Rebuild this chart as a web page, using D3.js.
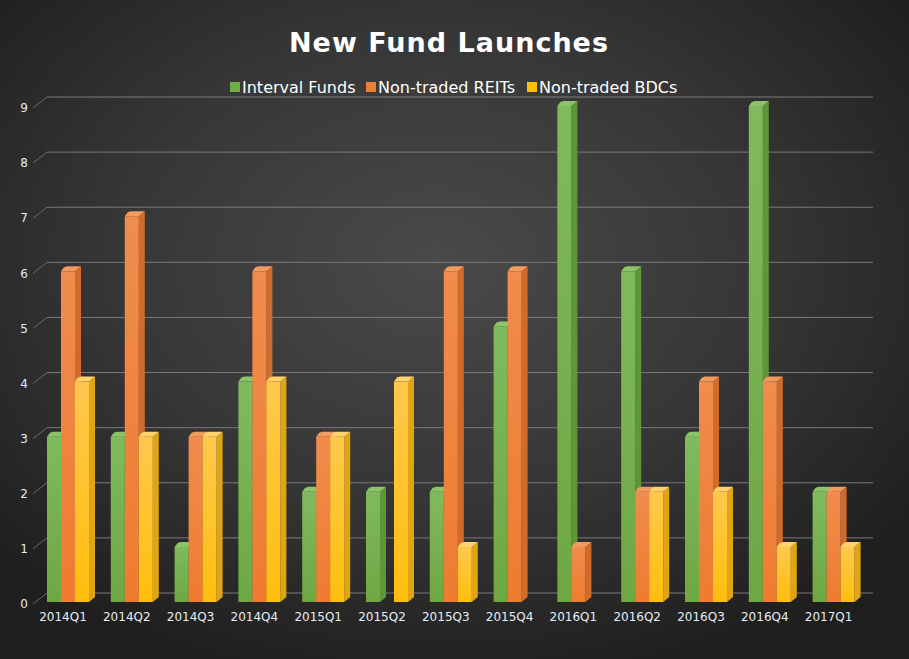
<!DOCTYPE html>
<html lang="en">
<head>
    <meta charset="UTF-8">
    <title>New Fund Launches</title>
    <script src="https://d3js.org/d3.v7.min.js"></script>
    <style>
        body {
            margin: 0;
            padding: 0;
            background: #222;
            font-family: 'DejaVu Sans', Arial, sans-serif;
        }
        svg { display: block; }
        .tick-label {
            font-size: 12px;
            fill: #e6ecf5;
        }
        .legend text {
            font-size: 16px;
            fill: #ffffff;
        }
    </style>
</head>
<body>
    <svg width="909" height="659" class="chart"></svg>

    <script>
        // Chart data
        const categories = ["2014Q1", "2014Q2", "2014Q3", "2014Q4", "2015Q1", "2015Q2", "2015Q3",
                            "2015Q4", "2016Q1", "2016Q2", "2016Q3", "2016Q4", "2017Q1"];
        const seriesNames = ["Interval Funds", "Non-traded REITs", "Non-traded BDCs"];
        const intervalFunds = [3, 3, 1, 4, 2, 2, 2, 5, 9, 6, 3, 9, 2];
        const nonTradedREITs = [6, 7, 3, 6, 3, 0, 6, 6, 1, 2, 4, 4, 2];
        const nonTradedBDCs = [4, 3, 3, 4, 3, 4, 1, 0, 0, 2, 2, 1, 1];
        const yTicks = [0, 1, 2, 3, 4, 5, 6, 7, 8, 9];

        const series = [intervalFunds, nonTradedREITs, nonTradedBDCs];

        // face colours per series
        const palette = [
            { front1: "#7fba5d", front2: "#6ea843", side: "#5f9639", top: "#8cc46a", legend: "#70ad47" },
            { front1: "#f08c4d", front2: "#ee7c30", side: "#d06b2c", top: "#f39a5f", legend: "#ed7d31" },
            { front1: "#ffc84d", front2: "#ffbe0d", side: "#dfa514", top: "#ffd36b", legend: "#ffc000" }
        ];

        const svg = d3.select(".chart");
        const width = +svg.attr("width");
        const height = +svg.attr("height");

        const defs = svg.append("defs");

        // background
        const bg = defs.append("radialGradient")
            .attr("id", "bg")
            .attr("cx", "48%").attr("cy", "40%").attr("r", "65%");
        bg.append("stop").attr("offset", "0%").attr("stop-color", "#4a4a4a");
        bg.append("stop").attr("offset", "55%").attr("stop-color", "#363636");
        bg.append("stop").attr("offset", "100%").attr("stop-color", "#1f1f1f");

        svg.append("rect")
            .attr("width", width)
            .attr("height", height)
            .attr("fill", "url(#bg)");

        palette.forEach((p, i) => {
            const g = defs.append("linearGradient")
                .attr("id", "front" + i)
                .attr("x1", 0).attr("y1", 0).attr("x2", 0).attr("y2", 1);
            g.append("stop").attr("offset", "0%").attr("stop-color", p.front1);
            g.append("stop").attr("offset", "100%").attr("stop-color", p.front2);
        });

        // 3D geometry
        const depthX = 14, depthY = -11;   // front to back wall
        const barDX = 6, barDY = -5;       // bar thickness
        const barOffset = 9;               // bars sit between front and back

        const yBack = d3.scaleLinear()
            .domain([0, 9])
            .range([593, 97]);

        const xScale = d3.scaleBand()
            .domain(categories)
            .range([31, 31 + 13 * 63.8]);

        const barWidth = 14;

        // gridlines on the back wall
        const grid = svg.append("g").attr("class", "grid");
        grid.selectAll("line.back")
            .data(yTicks)
            .enter()
            .append("line")
            .attr("x1", 47)
            .attr("x2", 873)
            .attr("y1", d => yBack(d))
            .attr("y2", d => yBack(d))
            .attr("stroke", "#7a7a7a")
            .attr("stroke-width", 1);

        // diagonal tick lines from the front edge
        grid.selectAll("line.diag")
            .data(yTicks)
            .enter()
            .append("line")
            .attr("x1", 47 - depthX)
            .attr("y1", d => yBack(d) - depthY)
            .attr("x2", 47)
            .attr("y2", d => yBack(d))
            .attr("stroke", "#6a6a6a")
            .attr("stroke-width", 1);

        svg.append("g")
            .selectAll("text")
            .data(yTicks)
            .enter()
            .append("text")
            .attr("class", "tick-label")
            .attr("x", 28)
            .attr("y", d => yBack(d) - depthY)
            .attr("dy", "0.35em")
            .attr("text-anchor", "end")
            .text(d => d);

        // bars
        const bars = svg.append("g").attr("class", "bars");
        categories.forEach((cat, ci) => {
            series.forEach((vals, si) => {
                const v = vals[ci];
                if (!v) return;
                const x0 = xScale(cat) + 16 + si * barWidth;
                const x1 = x0 + barWidth;
                const yTop = yBack(v) + barOffset;
                const yBot = yBack(0) + barOffset;
                const p = palette[si];

                // side face
                bars.append("path")
                    .attr("d", `M${x1},${yTop} L${x1 + barDX},${yTop + barDY} L${x1 + barDX},${yBot + barDY} L${x1},${yBot} Z`)
                    .attr("fill", p.side);
                // top face
                bars.append("path")
                    .attr("d", `M${x0},${yTop} L${x0 + 3},${yTop + barDY + 1} L${x0 + barDX},${yTop + barDY} L${x1 + barDX},${yTop + barDY} L${x1},${yTop} Z`)
                    .attr("fill", p.top);
                // front face
                bars.append("rect")
                    .attr("x", x0)
                    .attr("y", yTop)
                    .attr("width", barWidth)
                    .attr("height", yBot - yTop)
                    .attr("fill", `url(#front${si})`);
            });
        });

        // category labels
        svg.append("g")
            .selectAll("text")
            .data(categories)
            .enter()
            .append("text")
            .attr("class", "tick-label")
            .attr("x", d => xScale(d) + 32)
            .attr("y", 617)
            .attr("dy", "0.35em")
            .attr("text-anchor", "middle")
            .text(d => d);

        // title
        svg.append("text")
            .attr("x", 449)
            .attr("y", 43)
            .attr("dy", "0.35em")
            .attr("text-anchor", "middle")
            .style("font-size", "27px")
            .style("font-weight", "bold")
            .style("letter-spacing", "1px")
            .style("fill", "#ffffff")
            .text("New Fund Launches");

        // legend
        const legend = svg.append("g").attr("class", "legend");
        const legendX = [230, 366, 527];
        seriesNames.forEach((name, i) => {
            legend.append("rect")
                .attr("x", legendX[i])
                .attr("y", 82)
                .attr("width", 10)
                .attr("height", 10)
                .attr("fill", palette[i].legend);
            legend.append("text")
                .attr("x", legendX[i] + 12)
                .attr("y", 87)
                .attr("dy", "0.35em")
                .text(name);
        });
    </script>
</body>
</html>
